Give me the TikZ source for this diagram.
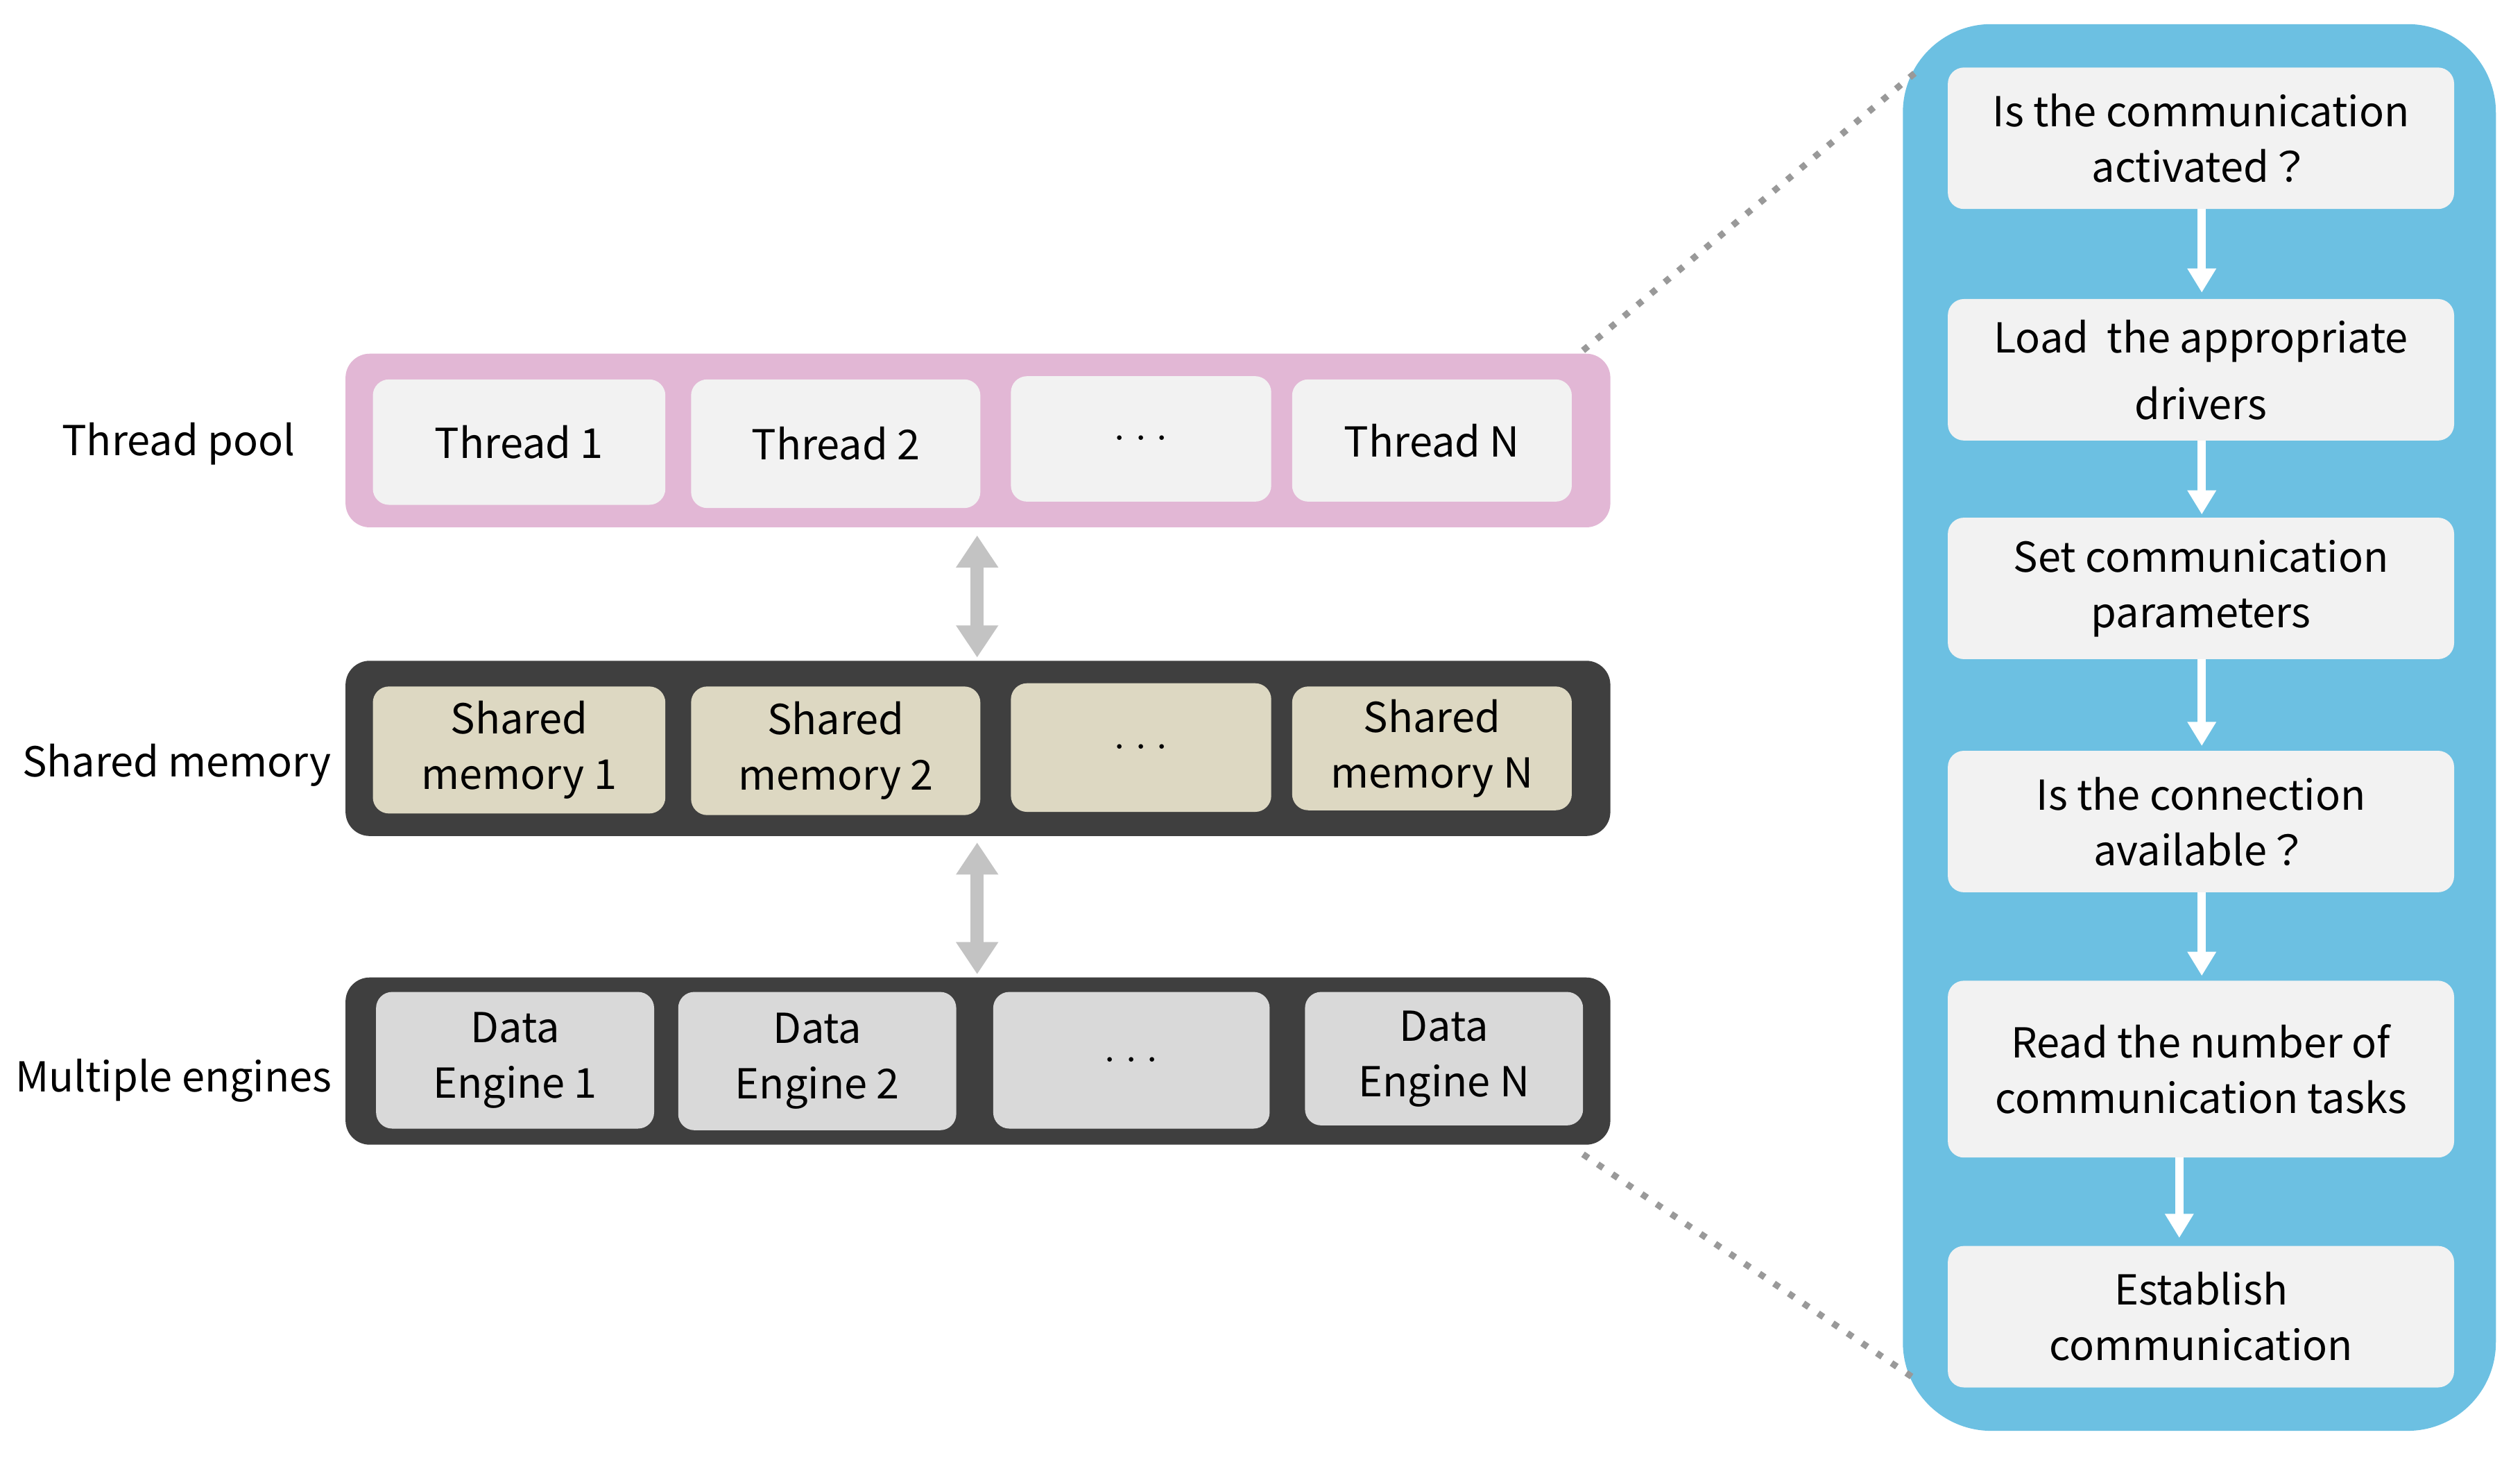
\documentclass[tikz,border=0pt]{standalone}
\usepackage{fontspec}
\setmainfont{Noto Sans CJK JP}
\usetikzlibrary{arrows.meta}
\definecolor{pinkband}{HTML}{E2B7D5}
\definecolor{darkband}{HTML}{3F3F3F}
\definecolor{lightbox}{HTML}{F2F2F2}
\definecolor{beigebox}{HTML}{DDD8C2}
\definecolor{graybox}{HTML}{D9D9D9}
\definecolor{bluepanel}{HTML}{6CC0E2}
\definecolor{arrowgray}{HTML}{C3C3C3}
\tikzset{
  txt/.style={font=\fontsize{7.3}{9.8}\selectfont, align=center, text=black},
  box/.style={txt, rounded corners=0.1cm, inner sep=0pt},
  band/.style={rounded corners=0.15cm, inner sep=0pt},
  dbl/.style={arrowgray, line width=0.08cm, {Triangle[width=0.25cm,length=0.2cm]}-{Triangle[width=0.25cm,length=0.2cm]}},
  warr/.style={white, line width=0.05cm, -{Triangle[width=0.17cm,length=0.15cm]}},
  dotl/.style={gray!80, line width=0.04cm, dotted}
}
\newcommand{\bx}[7]{\node[#6, minimum width={(#4-#2)*0.01cm}, minimum height={(#5-#3)*0.01cm}] (#1) at ({(#2+#4)/2},{(#3+#5)/2}) {#7};}
\begin{document}
\begin{tikzpicture}[x=0.01cm,y=-0.01cm]
\useasboundingbox (0,0) rectangle (1568,909);
% left bands
\bx{tp}{215}{220}{1002}{328}{band,fill=pinkband}{}
\bx{sm}{215}{411}{1002}{520}{band,fill=darkband}{}
\bx{me}{215}{608}{1002}{712}{band,fill=darkband}{}
\bx{t1}{232}{236}{414}{314}{box,fill=lightbox}{Thread 1}
\bx{t2}{430}{236}{610}{316}{box,fill=lightbox}{Thread 2}
\bx{t3}{629}{234}{791}{312}{box,fill=lightbox}{$\cdots$}
\bx{t4}{804}{236}{978}{312}{box,fill=lightbox}{Thread N}
\bx{s1}{232}{427}{414}{506}{box,fill=beigebox}{Shared\\memory 1}
\bx{s2}{430}{427}{610}{507}{box,fill=beigebox}{Shared\\memory 2}
\bx{s3}{629}{425}{791}{505}{box,fill=beigebox}{$\cdots$}
\bx{s4}{804}{427}{978}{504}{box,fill=beigebox}{Shared\\memory N}
\bx{e1}{234}{617}{407}{702}{box,fill=graybox}{Data\\Engine 1}
\bx{e2}{422}{617}{595}{703}{box,fill=graybox}{Data\\Engine 2}
\bx{e3}{618}{617}{790}{702}{box,fill=graybox}{$\cdots$}
\bx{e4}{812}{617}{985}{700}{box,fill=graybox}{Data\\Engine N}
\node[txt] (l1) at (111,276) {Thread pool};
\node[txt] (l2) at (110,476) {Shared memory};
\node[txt] (l3) at (108,672) {Multiple engines};
\coordinate (a1) at (608,333); \coordinate (a2) at (608,409);
\coordinate (a3) at (608,524); \coordinate (a4) at (608,606);
\draw[dbl] (a1) -- (a2);
\draw[dbl] (a3) -- (a4);
% right panel
\bx{bp}{1184}{15}{1553}{890}{rounded corners=0.55cm,fill=bluepanel,inner sep=0pt}{}
\bx{r1}{1212}{42}{1527}{130}{box,fill=lightbox}{Is the communication\\activated？}
\bx{r2}{1212}{186}{1527}{274}{box,fill=lightbox}{Load\ \ the appropriate\\[2pt]drivers}
\bx{r3}{1212}{322}{1527}{410}{box,fill=lightbox}{Set communication\\parameters}
\bx{r4}{1212}{467}{1527}{555}{box,fill=lightbox}{Is the connection\\available？}
\bx{r5}{1212}{610}{1527}{720}{box,fill=lightbox}{Read the number of\\communication tasks}
\bx{r6}{1212}{775}{1527}{863}{box,fill=lightbox}{Establish\\communication}
\draw[warr] (1370,130) -- (1370,182);
\draw[warr] (1370,274) -- (1370,320);
\draw[warr] (1370,410) -- (1370,464);
\draw[warr] (1370,555) -- (1370,607);
\draw[warr] (1356,720) -- (1356,770);
% zoom lines
\coordinate (z1) at (985,218); \coordinate (z2) at (1192,45);
\coordinate (z3) at (985,718); \coordinate (z4) at (1192,858);
\draw[dotl] (z1) -- (z2);
\draw[dotl] (z3) -- (z4);
\end{tikzpicture}
\end{document}
